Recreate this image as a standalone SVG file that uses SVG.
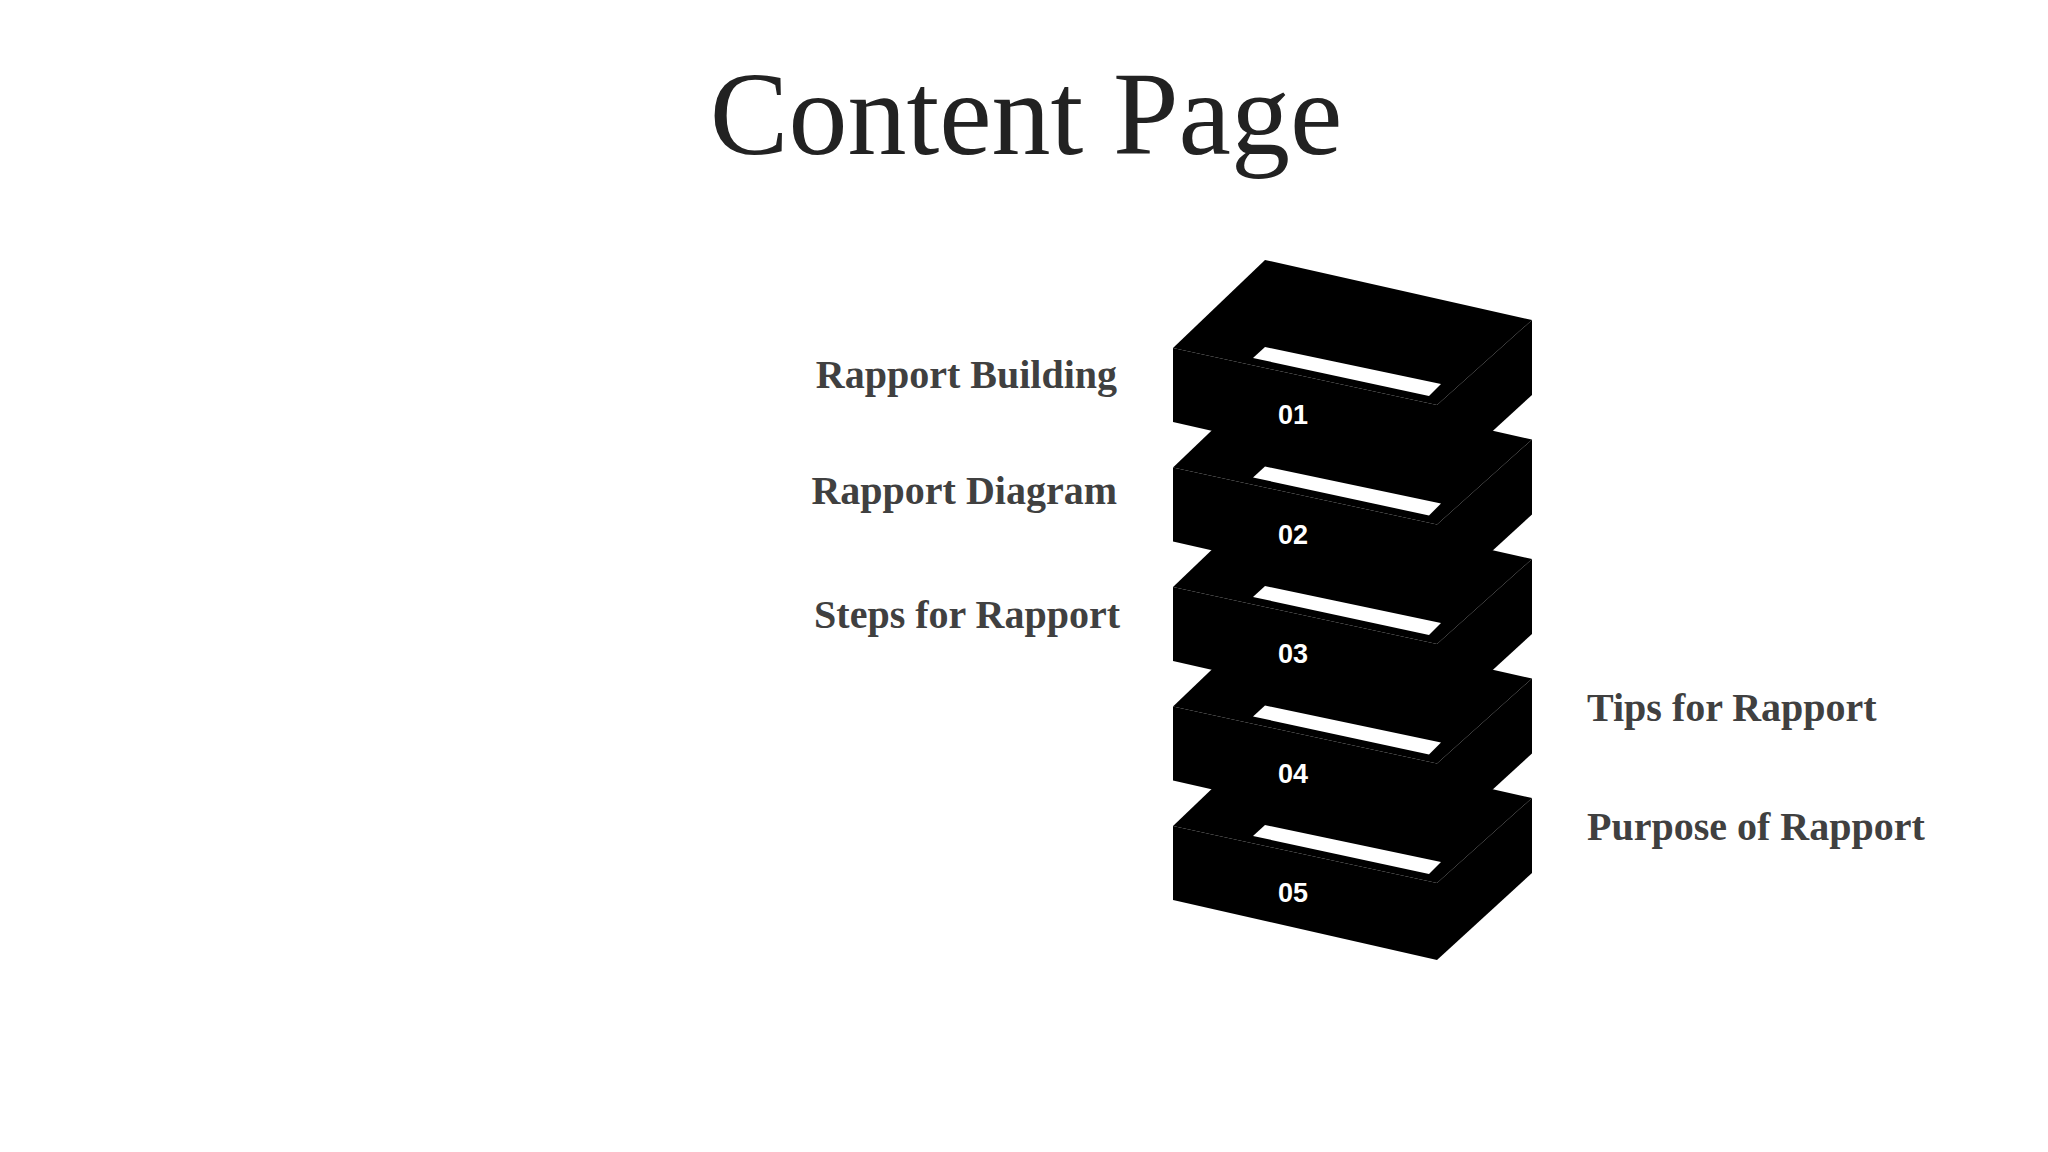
<svg xmlns="http://www.w3.org/2000/svg" width="2048" height="1152" viewBox="0 0 2048 1152">
<defs>
<style>
.lbl{font-family:"Liberation Serif",serif;font-weight:bold;font-size:40px;fill:#404040}
.num{font-family:"Liberation Sans",sans-serif;font-weight:bold;font-size:27px;fill:#fff;text-anchor:middle}
.r .rim{fill:#e60000}.r .in{fill:#ff1010}.r .fr{fill:#ff0000}.r .sd{fill:#f00000}
.b .rim{fill:#4a6294}.b .in{fill:#6f8bbf}.b .fr{fill:#51699f}.b .sd{fill:#7190c2}
.hole{fill:#fff}
</style>
<g id="box">
<polygon class="rim" points="1173,348 1437,405 1532,320 1265,260"/>
<polygon class="in" points="1195,345 1430,396 1508,325 1270,273"/>
<polygon class="hole" points="1265,347 1441,384 1429,396 1253,358"/>
<polygon class="fr" points="1173,348 1437,405 1437,482 1173,422"/>
<polygon class="sd" points="1437,405 1532,320 1532,395 1437,482"/>
</g>
</defs>
<rect width="2048" height="1152" fill="#fff"/>
<text x="1026" y="154" text-anchor="middle" font-family="Liberation Serif,serif" font-size="118" fill="#222">Content Page</text>
<g id="n5" class="r"><use href="#box" y="478"/><text class="num" x="1293" y="902">05</text></g>
<g id="n4" class="b"><use href="#box" y="358.5"/><text class="num" x="1293" y="783">04</text></g>
<g id="n3" class="r"><use href="#box" y="239"/><text class="num" x="1293" y="663">03</text></g>
<g id="n2" class="b"><use href="#box" y="119.5"/><text class="num" x="1293" y="544">02</text></g>
<g id="n1" class="r"><use href="#box"/><text class="num" x="1293" y="424">01</text></g>
<g id="labels">
<text class="lbl" x="1117" y="388" text-anchor="end">Rapport Building</text>
<text class="lbl" x="1117" y="504" text-anchor="end">Rapport Diagram</text>
<text class="lbl" x="1120" y="628" text-anchor="end">Steps for Rapport</text>
<text class="lbl" x="1587" y="721">Tips for Rapport</text>
<text class="lbl" x="1587" y="840">Purpose of Rapport</text>
</g>
<g id="connectors"/>
</svg>
